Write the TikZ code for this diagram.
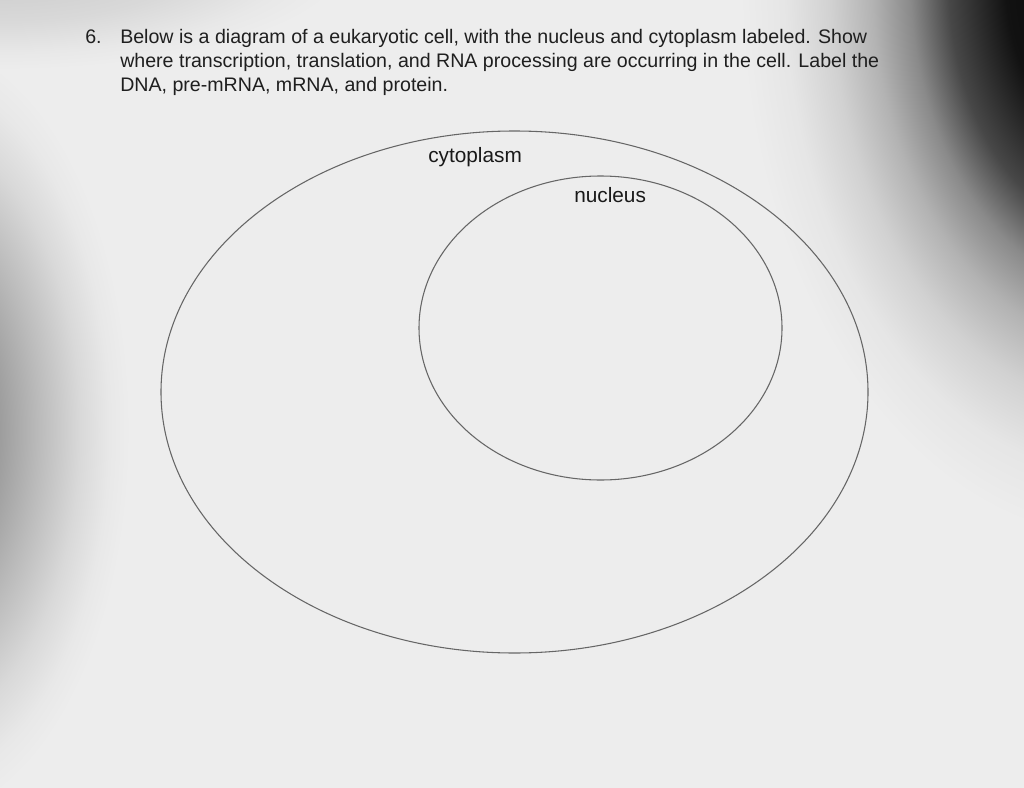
\documentclass[tikz,border=0pt]{standalone}
\usepackage{fontspec}
\setmainfont{Liberation Sans}
\usetikzlibrary{shapes.geometric}
\pgfdeclareradialshading{cornershade}{\pgfpoint{0bp}{0bp}}{%
  color(0bp)=(black); color(7.5bp)=(black!93); color(11.25bp)=(black!72);
  color(13.75bp)=(black!46); color(16.25bp)=(black!30); color(19bp)=(black!18);
  color(22bp)=(black!10); color(25bp)=(black!7); color(50bp)=(black!7)}
\pgfdeclareradialshading{leftshade}{\pgfpoint{0bp}{0bp}}{%
  color(0bp)=(black!50); color(8bp)=(black!42); color(14bp)=(black!27);
  color(19bp)=(black!15); color(22.5bp)=(black!9); color(25bp)=(black!7); color(50bp)=(black!7)}
\pgfdeclareradialshading{tlshade}{\pgfpoint{0bp}{0bp}}{%
  color(0bp)=(black!22); color(14bp)=(black!15); color(21bp)=(black!9); color(25bp)=(black!7); color(50bp)=(black!7)}
\tikzset{
  qtext/.style={anchor=base west, inner sep=0pt, font=\fontsize{14.7pt}{17pt}\selectfont, text=black!88},
  lbl/.style={anchor=base west, inner sep=0pt, font=\fontsize{15.6pt}{18pt}\selectfont, text=black!90},
  cellline/.style={draw=black!60, line width=0.8pt, ellipse, inner sep=0pt}
}
\newcommand{\paperglow}[5]{% centre x, centre y, rx, ry, shading
  \begin{scope}
    \clip (#1,#2) ellipse [x radius=#3, y radius=#4];
    \begin{scope}[shift={(#1,#2)}, xscale=#3*0.75/25, yscale=#4*0.75/25]
      \pgflowlevelsynccm\pgftext{\pgfuseshading{#5}}
    \end{scope}
  \end{scope}}
\begin{document}
\begin{tikzpicture}[x=0.75pt,y=-0.75pt]
\useasboundingbox (0,0) rectangle (1024,788);
% background paper
\fill[black!7] (0,0) rectangle (1024,788);
\paperglow{0}{-40}{350}{110}{tlshade}
\paperglow{-80}{430}{210}{390}{leftshade}
\paperglow{1120}{-20}{380}{560}{cornershade}
% question text
\node[qtext] (num) at (85,44) {6.};
\node[qtext] (l1) at (120,44) {Below is a diagram of a eukaryotic cell, with the nucleus and cytoplasm labeled. Show};
\node[qtext] (l2) at (120,68) {where transcription, translation, and RNA processing are occurring in the cell. Label the};
\node[qtext] (l3) at (120,92) {DNA, pre-mRNA, mRNA, and protein.};
% cell
\node[cellline, minimum width=530.25pt, minimum height=391.5pt] (cell) at (514.5,392) {};
\node[cellline, minimum width=272.25pt, minimum height=228pt] (nucleus) at (600.5,328) {};
\node[lbl] (cyto) at (428,163) {cytoplasm};
\node[lbl] (nuc) at (574,203) {nucleus};
\end{tikzpicture}
\end{document}
